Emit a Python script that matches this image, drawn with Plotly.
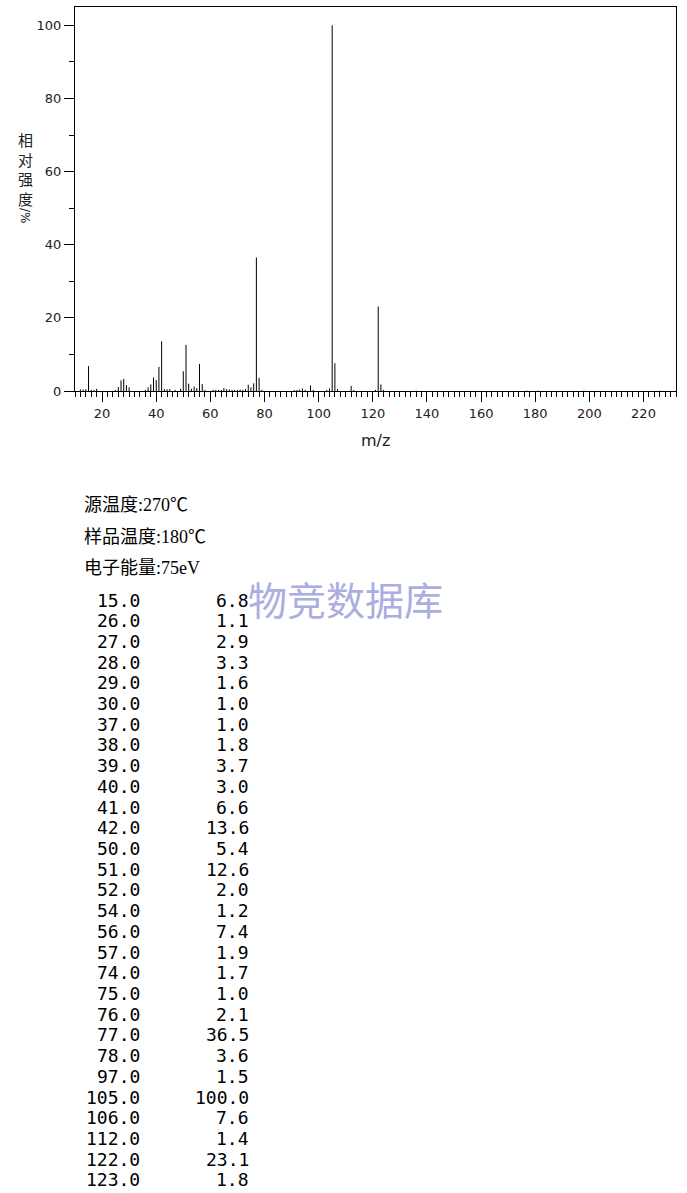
import plotly.graph_objects as go

# ---- data: m/z and relative intensity (%) ----
mz = [12, 13, 14, 15, 16, 17, 18, 25, 26, 27, 28, 29, 30, 36, 37, 38, 39, 40, 41, 42,
      43, 44, 45, 47, 49, 50, 51, 52, 53, 54, 55, 56, 57, 58, 61, 62, 63, 64, 65, 66,
      67, 68, 69, 70, 71, 72, 73, 74, 75, 76, 77, 78, 79, 91, 92, 93, 94, 95, 97, 98,
      103, 104, 105, 106, 107, 112, 113, 121, 122, 123, 124, 136, 177, 181, 198, 226]
intensity = [0.4, 0.4, 0.5, 6.8, 0.3, 0.3, 0.6, 0.3, 1.1, 2.9, 3.3, 1.6, 1.0, 0.3, 1.0, 1.8, 3.7, 3.0, 6.6, 13.6,
             0.5, 0.5, 0.5, 0.3, 0.6, 5.4, 12.6, 2.0, 0.6, 1.2, 0.8, 7.4, 1.9, 0.3, 0.3, 0.3, 0.3, 0.3, 0.8, 0.5,
             0.4, 0.3, 0.3, 0.3, 0.4, 0.3, 0.5, 1.7, 1.0, 2.1, 36.5, 3.6, 0.3, 0.3, 0.3, 0.4, 0.7, 0.3, 1.5, 0.3,
             0.3, 0.7, 100.0, 7.6, 0.5, 1.4, 0.3, 0.3, 23.1, 1.8, 0.3, 0.1, 0.1, 0.1, 0.1, 0.1]

table_mz = ["15.0", "26.0", "27.0", "28.0", "29.0", "30.0", "37.0", "38.0", "39.0", "40.0",
            "41.0", "42.0", "50.0", "51.0", "52.0", "54.0", "56.0", "57.0", "74.0", "75.0",
            "76.0", "77.0", "78.0", "97.0", "105.0", "106.0", "112.0", "122.0", "123.0"]
table_int = ["6.8", "1.1", "2.9", "3.3", "1.6", "1.0", "1.0", "1.8", "3.7", "3.0",
             "6.6", "13.6", "5.4", "12.6", "2.0", "1.2", "7.4", "1.9", "1.7", "1.0",
             "2.1", "36.5", "3.6", "1.5", "100.0", "7.6", "1.4", "23.1", "1.8"]

info_lines = ["源温度:270℃", "样品温度:180℃", "电子能量:75eV"]
ylabel_text = "相<br>对<br>强<br>度"

# ---- layout geometry (page pixels) ----
W, H = 687, 1193
L, R, T, B = 75, 676, 7, 391


def px(x):
    return (x - L) / (R - L)


def py(y):
    return (B - y) / (B - T)


xs, ys = [], []
for m, v in zip(mz, intensity):
    xs += [m, m, None]
    ys += [0, v, None]

fig = go.Figure()
fig.add_trace(go.Scatter(x=xs, y=ys, mode="lines",
                         line=dict(color="black", width=1),
                         hoverinfo="skip", showlegend=False))

ann = []
# x-axis title
ann.append(dict(text="m/z", x=px(375), y=py(440), xanchor="center", yanchor="middle",
                font=dict(family="DejaVu Sans", size=16, color="#222")))
# y-axis title (stacked characters)
ann.append(dict(text=ylabel_text, x=px(25), y=py(169), xanchor="center", yanchor="middle",
                font=dict(family="Noto Sans CJK SC", size=15, color="#222")))
ann.append(dict(text="/%", x=px(25), y=py(215), xanchor="center", yanchor="middle", textangle=90,
                font=dict(family="DejaVu Sans", size=12, color="#222")))
# info lines
for i, t in enumerate(info_lines):
    ann.append(dict(text=t, x=px(82), y=py(505 + 31.5 * i), xanchor="left", yanchor="middle",
                    font=dict(family="Liberation Serif, Noto Sans CJK SC", size=18, color="black")))
# watermark
ann.append(dict(text="物竞数据库", x=px(345), y=py(598), xanchor="center", yanchor="middle",
                font=dict(family="Noto Sans CJK SC", size=39, color="#abaee0")))
# peak table
for i, (a, b) in enumerate(zip(table_mz, table_int)):
    yy = py(600 + 20.71 * i)
    ann.append(dict(text=a, x=px(142), y=yy, xanchor="right", yanchor="middle",
                    font=dict(family="DejaVu Sans Mono", size=18, color="black")))
    ann.append(dict(text=b, x=px(251), y=yy, xanchor="right", yanchor="middle",
                    font=dict(family="DejaVu Sans Mono", size=18, color="black")))
for a in ann:
    a.update(xref="paper", yref="paper", showarrow=False)

fig.update_layout(
    width=W, height=H,
    margin=dict(l=L, r=W - R, t=T, b=H - B, pad=0),
    paper_bgcolor="white", plot_bgcolor="white",
    annotations=ann,
    xaxis=dict(range=[10, 232], showgrid=False, zeroline=False,
               showline=True, linecolor="black", linewidth=1, mirror=True,
               tickmode="linear", tick0=0, dtick=20, ticks="outside", ticklen=10,
               tickcolor="black", tickwidth=1,
               minor=dict(tickmode="linear", tick0=0, dtick=2, ticks="outside", ticklen=5,
                          tickcolor="black", tickwidth=1),
               tickfont=dict(family="DejaVu Sans", size=13, color="#222")),
    yaxis=dict(range=[0, 105], showgrid=False, zeroline=False,
               showline=True, linecolor="black", linewidth=1, mirror=True,
               tickmode="linear", tick0=0, dtick=20, ticks="outside", ticklen=10,
               tickcolor="black", tickwidth=1,
               minor=dict(tickmode="linear", tick0=0, dtick=10, ticks="outside", ticklen=5,
                          tickcolor="black", tickwidth=1),
               tickfont=dict(family="DejaVu Sans", size=13, color="#222")),
)

# remove the default page margin so the figure fills the window exactly
fig.write_html("out.html", config={"displayModeBar": False},
               post_script="document.body.style.margin='0';")
